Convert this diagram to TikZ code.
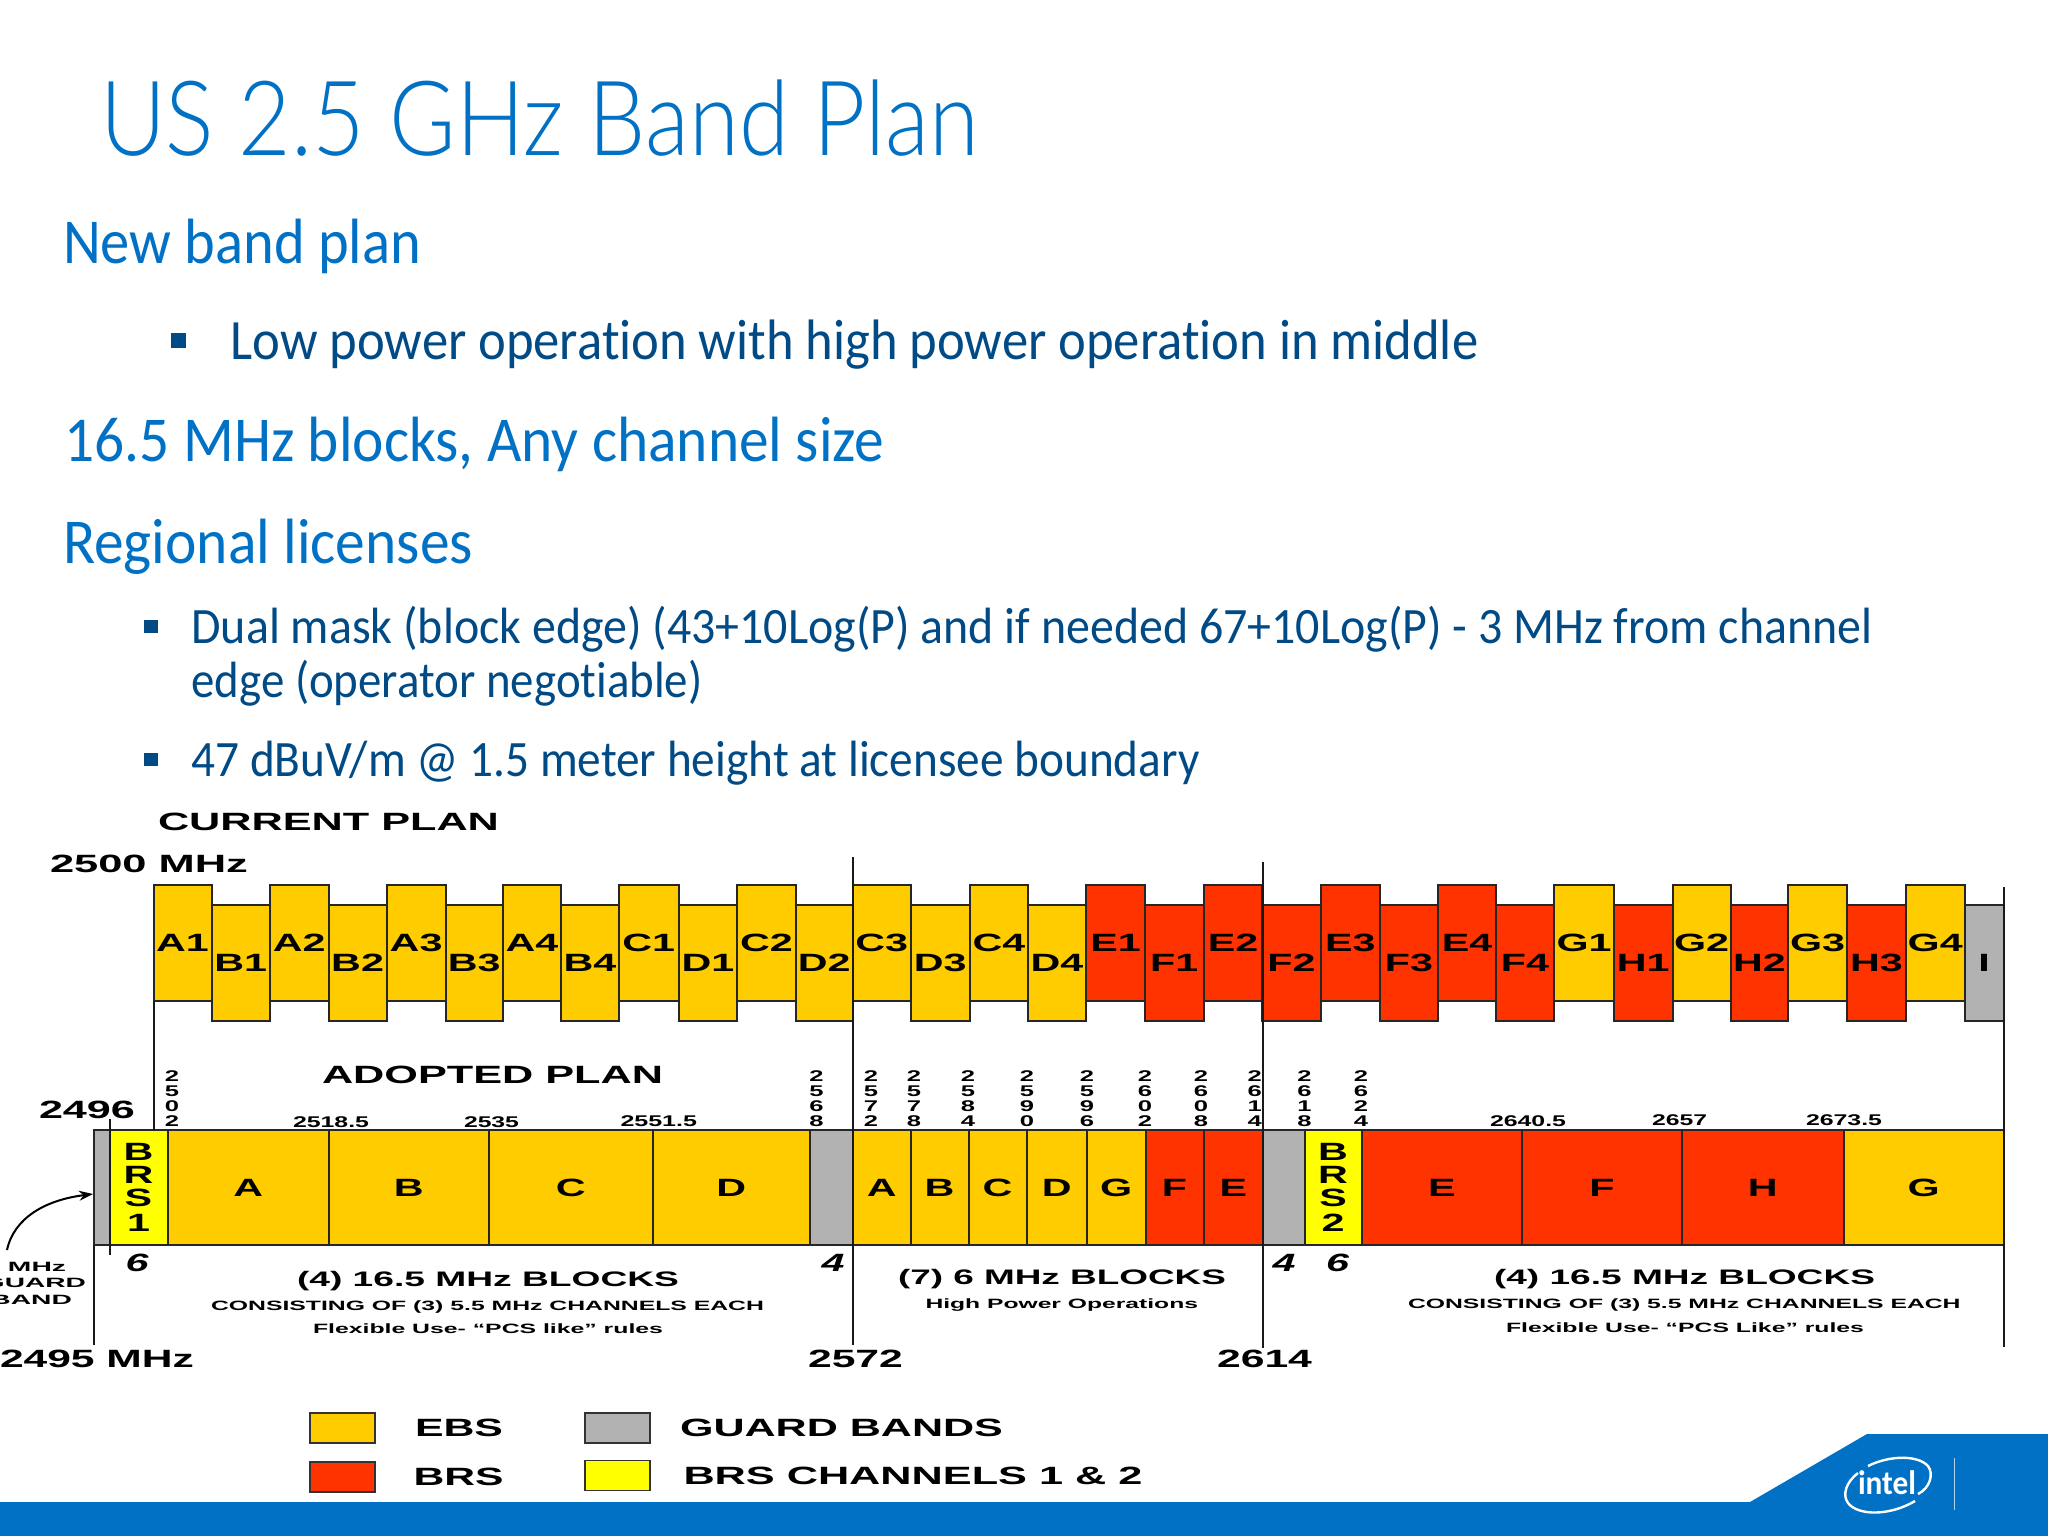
\documentclass[tikz,border=0pt]{standalone}
\usepackage{graphicx}
\usepackage{fontspec}
\usetikzlibrary{arrows.meta}
\setmainfont{Carlito}
\newfontfamily\ttlfont{Lato Light}
\newfontfamily\dia[FakeStretch=1.65]{Liberation Sans}
\newfontfamily\clr[Ligatures=NoCommon]{Carlito}
\definecolor{ebs}{HTML}{FFCC00}
\definecolor{brs}{HTML}{FF3300}
\definecolor{grd}{HTML}{B2B2B2}
\definecolor{chn}{HTML}{FFFF00}
\definecolor{hd}{HTML}{0071C5}
\definecolor{bd}{HTML}{004A86}
\newcommand\fitw[2]{\resizebox{#1pt}{\height}{#2}}
\newcommand\fs[1]{\fontsize{#1}{#1}\selectfont}
\tikzset{
  x=1pt,y=-1pt,
  band/.style={draw=black!85,line width=2pt,inner sep=0pt,outer sep=0pt,rectangle,font=\dia\bfseries\fs{25}},
  txt/.style={anchor=base west,inner sep=0pt,outer sep=0pt},
  ctr/.style={inner sep=0pt,outer sep=0pt,font=\dia\bfseries\fs{25}},
  digit/.style={inner sep=0pt,outer sep=0pt,font=\dia\bfseries\fs{15.5}},
  rule/.style={line width=2pt,draw=black!90},
  head/.style={txt,text=hd,font=\clr\fs{64}},
  body/.style={txt,text=bd,font=\clr\fs{51}},
  dbold/.style={txt,font=\dia\bfseries\fs{25}},
  dsmall/.style={txt,font=\dia\bfseries\fs{15.5}},
  dmid/.style={txt,font=\dia\bfseries\fs{21}},
  dtiny/.style={txt,font=\dia\bfseries\fs{13.5}},
  num/.style={inner sep=0pt,outer sep=0pt,font=\dia\bfseries\itshape\fs{25}},
  bull/.style={fill=bd,draw=none,rectangle,inner sep=0pt,outer sep=0pt},
  leg/.style={draw=black!80,line width=1.6pt,rectangle,inner sep=0pt,outer sep=0pt,minimum width=65pt,minimum height=30pt},
}
\begin{document}
\begin{tikzpicture}
\useasboundingbox (0,0) rectangle (2048,1536);
\fill[white] (0,0) rectangle (2048,1536);
% footer
\fill[hd] (0,1502) -- (1750,1502) -- (1867,1434) -- (2048,1434) -- (2048,1536) -- (0,1536) -- cycle;
\draw[white!70!hd,line width=1pt] (1954,1458) -- (1954,1510);
\node[txt,text=white] (intel) at (1858,1494) {\fitw{58}{\clr\bfseries\fs{34}intel}};
\draw[white,line width=2.4pt] (1858,1473) .. controls (1846,1482) and (1842,1495) .. (1848,1503)
   .. controls (1858,1516) and (1890,1516) .. (1915,1501);
\draw[white,line width=2.4pt] (1868,1466) .. controls (1890,1455) and (1918,1455) .. (1928,1466)
   .. controls (1934,1474) and (1930,1488) .. (1918,1494);
% title and text
\node[txt,text=hd] (title) at (100,155) {\fitw{879}{\ttlfont\fs{104}US 2.5 GHz Band Plan}};
\node[head] (h1) at (63,263) {\fitw{358}{New band plan}};
\node[bull,minimum width=15pt,minimum height=15pt] (b1) at (178.5,340.5) {};
\node[body,font=\clr\fs{57}] (t1) at (230.5,359) {\fitw{1248}{Low power operation with high power operation in middle}};
\node[head] (h2) at (64.5,461) {\fitw{820}{16.5 MHz blocks, Any channel size}};
\node[head] (h3) at (63,563) {\fitw{410}{Regional licenses}};
\node[bull,minimum width=14pt,minimum height=13pt] (b2) at (151,626) {};
\node[body] (t2) at (191.5,643) {\fitw{1681}{Dual mask (block edge) (43+10Log(P) and if needed 67+10Log(P) - 3 MHz from channel}};
\node[body] (t3) at (191.5,697) {\fitw{511}{edge (operator negotiable)}};
\node[bull,minimum width=14pt,minimum height=13pt] (b3) at (151,759.5) {};
\node[body] (t4) at (191.5,776) {\fitw{1008}{47 dBuV/m @ 1.5 meter height at licensee boundary}};
% diagram labels
\node[dbold] (cur) at (158,830) {\fitw{341}{CURRENT PLAN}};
\node[dbold] (mhz) at (50,872) {\fitw{198}{2500 MHz}};
\node[dbold] (ado) at (322,1083) {\fitw{341}{ADOPTED PLAN}};
\node[dbold] (l2496) at (39,1118) {\fitw{96}{2496}};
\node[dbold] (l2495) at (0,1367) {\fitw{194}{2495 MHz}};
\node[dbold] (l2572) at (808,1367) {\fitw{95}{2572}};
\node[dbold] (l2614) at (1217,1367) {\fitw{95}{2614}};
\node[dsmall] (s1) at (293,1127) {\fitw{76}{2518.5}};
\node[dsmall] (s2) at (464,1127) {\fitw{55}{2535}};
\node[dsmall] (s3) at (620.5,1126) {\fitw{76.5}{2551.5}};
\node[dsmall] (s4) at (1490,1126) {\fitw{76}{2640.5}};
\node[dsmall] (s5) at (1652,1125) {\fitw{55}{2657}};
\node[dsmall] (s6) at (1806,1125) {\fitw{76}{2673.5}};
% vertical frequency labels
\foreach \n/\x/\p/\q/\r/\s in {v1/172/2/5/0/2,v2/816.5/2/5/6/8,v3/871/2/5/7/2,v4/914/2/5/7/8,v5/968/2/5/8/4,v6/1027/2/5/9/0,v7/1087/2/5/9/6,v8/1145/2/6/0/2,v9/1201/2/6/0/8,v10/1254.6/2/6/1/4,v11/1304.5/2/6/1/8,v12/1361/2/6/2/4}{
  \node[digit] (\n a) at (\x,1076) {\p};
  \node[digit] (\n b) at (\x,1091.5) {\q};
  \node[digit] (\n c) at (\x,1106.5) {\r};
  \node[digit] (\n d) at (\x,1121.5) {\s};
}
% current plan: low blocks
\foreach \n/\a/\b/\c/\t in {B1/211.6/269.8/ebs/B1,B2/328.5/386.7/ebs/B2,B3/445.5/503/ebs/B3,B4/561/619/ebs/B4,D1/678.6/737.4/ebs/D1,D2/795.5/853/ebs/D2,D3/910.5/970/ebs/D3,D4/1028/1086/ebs/D4,F1/1145/1203.6/brs/F1,F2/1262.4/1320.5/brs/F2,F3/1380/1438/brs/F3,F4/1496/1554/brs/F4,H1/1614/1672.6/brs/H1,H2/1730.7/1788/brs/H2,H3/1847/1905.8/brs/H3,I/1964.6/2003.8/grd/I}{
  \pgfmathsetmacro\w{\b-\a}\pgfmathsetmacro\m{(\a+\b)/2}
  \node[band,fill=\c,minimum width=\w pt,minimum height=116pt] (\n) at (\m,963) {\makebox[0pt][c]{\t}};
}
% current plan: high blocks
\foreach \n/\a/\b/\c/\t in {A1/153.5/211.6/ebs/A1,A2/269.8/328.5/ebs/A2,A3/386.7/445.5/ebs/A3,A4/503/561/ebs/A4,C1/619/678.6/ebs/C1,C2/737.4/795.5/ebs/C2,C3/853/910.5/ebs/C3,C4/970/1028/ebs/C4,E1/1086/1145/brs/E1,E2/1203.6/1262.4/brs/E2,E3/1320.5/1380/brs/E3,E4/1438/1496/brs/E4,G1/1554/1614/ebs/G1,G2/1672.6/1730.7/ebs/G2,G3/1788/1847/ebs/G3,G4/1905.8/1964.6/ebs/G4}{
  \pgfmathsetmacro\w{\b-\a}\pgfmathsetmacro\m{(\a+\b)/2}
  \node[band,fill=\c,minimum width=\w pt,minimum height=116pt] (\n) at (\m,943) {\makebox[0pt][c]{\raisebox{-0.5pt}{\t}}};
}
% adopted plan
\foreach \n/\a/\b/\c/\t in {g0/94/110/grd/{},brsa/110/168/chn/{},a1/168/328.5/ebs/A,a2/328.5/489/ebs/B,a3/489/652.5/ebs/C,a4/652.5/810/ebs/D,g1/810/853/grd/{},a5/853/910.5/ebs/A,a6/910.5/968.6/ebs/B,a7/968.6/1026.6/ebs/C,a8/1026.6/1086.7/ebs/D,a9/1086.7/1145.5/ebs/G,a10/1145.5/1203.6/brs/F,a11/1203.6/1263/brs/E,g2/1263/1305/grd/{},brsb/1305/1361.7/chn/{},a12/1361.7/1522/brs/E,a13/1522/1681.8/brs/F,a14/1681.8/1843.7/brs/H,a15/1843.7/2003.8/ebs/G}{
  \pgfmathsetmacro\w{\b-\a}\pgfmathsetmacro\m{(\a+\b)/2}
  \node[band,fill=\c,minimum width=\w pt,minimum height=115pt] (\n) at (\m,1187.5) {\makebox[0pt][c]{\raisebox{-1pt}{\t}}};
}
\foreach \n/\x in {p/138.5,q/1333}{
  \node[ctr] (\n1) at (\x,1152) {B};
  \node[ctr] (\n2) at (\x,1175) {R};
  \node[ctr] (\n3) at (\x,1198) {S};
}
\node[ctr] (p4) at (138.5,1223) {1};
\node[ctr] (q4) at (1333,1223) {2};
% vertical rules
\coordinate (r1t) at (853,857);  \coordinate (r1b) at (853,1345);
\coordinate (r2t) at (1263,862); \coordinate (r2b) at (1263,1348);
\coordinate (r3t) at (2004,887); \coordinate (r3b) at (2004,1347);
\coordinate (r4b) at (94,1345);
\coordinate (r5t) at (110,1119); \coordinate (r5b) at (110,1255);
\draw[rule] (r1t) -- (r1b);
\draw[rule] (r2t) -- (r2b);
\draw[rule] (r3t) -- (r3b);
\draw[rule] (A1.south west) -- (A1.south west |- a1.north);
\draw[rule] (g0.south west) -- (r4b);
\draw[rule] (r5t) -- (r5b);
% guard arrow
\coordinate (gs) at (7,1250);
\coordinate (gt) at (93,1194);
\draw[line width=2pt,-{Stealth[length=14pt,width=10pt]}] (gs) .. controls (14,1218) and (45,1200) .. (gt);
\node[dtiny] (gm1) at (8,1271) {\fitw{58}{MHz}};
\node[dtiny] (gm2) at (-17,1287) {\fitw{103}{GUARD}};
\node[dtiny] (gm3) at (-9.5,1304) {\fitw{81.5}{BAND}};
% counts
\node[num] (n6a) at (137,1263) {6};
\node[num] (n4a) at (833,1263) {4};
\node[num] (n4b) at (1284,1263) {4};
\node[num] (n6b) at (1337.5,1263) {6};
% block captions
\node[dmid] (c1) at (297,1286) {\fitw{382}{(4) 16.5 MHz BLOCKS}};
\node[dtiny] (c2) at (211,1310) {\fitw{553}{CONSISTING OF (3) 5.5 MHz CHANNELS EACH}};
\node[dtiny] (c3) at (313,1333) {\fitw{350}{Flexible Use- “PCS like” rules}};
\node[dmid] (c4) at (898,1284) {\fitw{328}{(7) 6 MHz BLOCKS}};
\node[dtiny] (c5) at (925.5,1308) {\fitw{272.5}{High Power Operations}};
\node[dmid] (c6) at (1494,1284) {\fitw{381}{(4) 16.5 MHz BLOCKS}};
\node[dtiny] (c7) at (1408,1308) {\fitw{552.6}{CONSISTING OF (3) 5.5 MHz CHANNELS EACH}};
\node[dtiny] (c8) at (1506,1332) {\fitw{358}{Flexible Use- “PCS Like” rules}};
% legend
\node[leg,fill=ebs] (le) at (342.2,1428) {};
\node[leg,fill=brs] (lb) at (342.2,1477) {};
\node[leg,fill=grd] (lg) at (617.6,1428) {};
\node[leg,fill=chn] (ly) at (617.6,1475.5) {};
\node[dbold] (te) at (415,1436) {\fitw{88}{EBS}};
\node[dbold] (tb) at (413.5,1485) {\fitw{90}{BRS}};
\node[dbold] (tg) at (680,1436) {\fitw{323}{GUARD BANDS}};
\node[dbold] (ty) at (683.5,1484) {\fitw{459}{BRS CHANNELS 1 \& 2}};
\end{tikzpicture}
\end{document}
